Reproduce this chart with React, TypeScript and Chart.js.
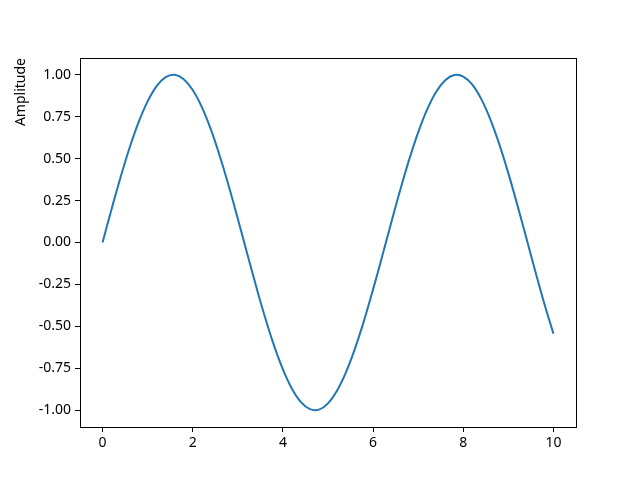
import React, { useEffect, useRef } from "react";
import { Chart, registerables } from "chart.js";

Chart.register(...registerables);

const xValues = [
  0, 0.2, 0.4, 0.6, 0.8, 1.0, 1.2, 1.4, 1.6, 1.8, 2.0, 2.2, 2.4, 2.6, 2.8, 3.0, 3.2, 3.4, 3.6,
  3.8, 4.0, 4.2, 4.4, 4.6, 4.8, 5.0, 5.2, 5.4, 5.6, 5.8, 6.0, 6.2, 6.4, 6.6, 6.8, 7.0, 7.2, 7.4,
  7.6, 7.8, 8.0, 8.2, 8.4, 8.6, 8.8, 9.0, 9.2, 9.4, 9.6, 9.8, 10.0,
];
const amplitude = [
  0, 0.1987, 0.3894, 0.5646, 0.7174, 0.8415, 0.932, 0.9854, 0.9996, 0.9738, 0.9093, 0.8085,
  0.6755, 0.5155, 0.335, 0.1411, -0.0584, -0.2555, -0.4425, -0.6119, -0.7568, -0.8716, -0.9516,
  -0.9937, -0.9962, -0.9589, -0.8835, -0.7728, -0.6313, -0.4646, -0.2794, -0.0831, 0.1165,
  0.3115, 0.4941, 0.657, 0.7937, 0.8987, 0.9679, 0.9985, 0.9894, 0.9407, 0.8546, 0.7344, 0.5849,
  0.4121, 0.2229, 0.0248, -0.1743, -0.3665, -0.544,
];
const xTicks = [0, 2, 4, 6, 8, 10];
const yTicks = [-1, -0.75, -0.5, -0.25, 0, 0.25, 0.5, 0.75, 1];
const yLabel = "Amplitude";

const FONT = { family: "'Noto Sans', 'DejaVu Sans', sans-serif", size: 14 };

const frame = {
  id: "frame",
  afterDatasetsDraw(chart: any) {
    const { ctx, chartArea } = chart;
    ctx.save();
    ctx.strokeStyle = "#000";
    ctx.lineWidth = 1;
    ctx.strokeRect(
      Math.round(chartArea.left) + 0.5,
      Math.round(chartArea.top) + 0.5,
      Math.round(chartArea.right - chartArea.left),
      Math.round(chartArea.bottom - chartArea.top)
    );
    ctx.restore();
  },
};

export default function App() {
  const ref = useRef<HTMLCanvasElement>(null);
  useEffect(() => {
    document.body.style.margin = "0";
    const canvas = ref.current!;
    const chart = new Chart(canvas, {
      type: "line",
      data: {
        datasets: [
          {
            data: xValues.map((x, i) => ({ x, y: amplitude[i] })),
            borderColor: "#1f77b4",
            borderWidth: 2,
            pointRadius: 0,
            tension: 0.4,
            fill: false,
          },
        ],
      },
      options: {
        animation: false,
        responsive: false,
        devicePixelRatio: 1,
        layout: { padding: { top: 58, right: 64, left: 0, bottom: 0 } },
        plugins: { legend: { display: false }, tooltip: { enabled: false } },
        scales: {
          x: {
            type: "linear",
            min: -0.5,
            max: 10.5,
            afterBuildTicks: (s: any) => {
              s.ticks = xTicks.map((v) => ({ value: v }));
            },
            afterFit: (s: any) => {
              s.height = 53;
            },
            border: { display: false },
            grid: {
              drawOnChartArea: false,
              drawTicks: true,
              tickLength: 5,
              tickColor: "#000",
              tickWidth: 1,
            },
            ticks: {
              color: "#000",
              font: FONT,
              padding: 3,
              maxRotation: 0,
              callback: (v: any) => String(v),
            },
          },
          y: {
            type: "linear",
            min: -1.1,
            max: 1.1,
            afterBuildTicks: (s: any) => {
              s.ticks = yTicks.map((v) => ({ value: v }));
            },
            afterFit: (s: any) => {
              s.width = 80;
            },
            border: { display: false },
            grid: {
              drawOnChartArea: false,
              drawTicks: true,
              tickLength: 5,
              tickColor: "#000",
              tickWidth: 1,
            },
            ticks: {
              color: "#000",
              font: FONT,
              padding: 4,
              callback: (v: any) => Number(v).toFixed(2),
            },
            title: {
              display: true,
              text: yLabel,
              color: "#000",
              font: FONT,
              align: "end",
              padding: { top: 13, bottom: 0 },
            },
          },
        },
      },
      plugins: [frame],
    });
    return () => chart.destroy();
  }, []);
  return (
    <div style={{ position: "absolute", left: 0, top: 0, width: 640, height: 480, background: "#fff" }}>
      <canvas ref={ref} width={640} height={480} />
    </div>
  );
}
